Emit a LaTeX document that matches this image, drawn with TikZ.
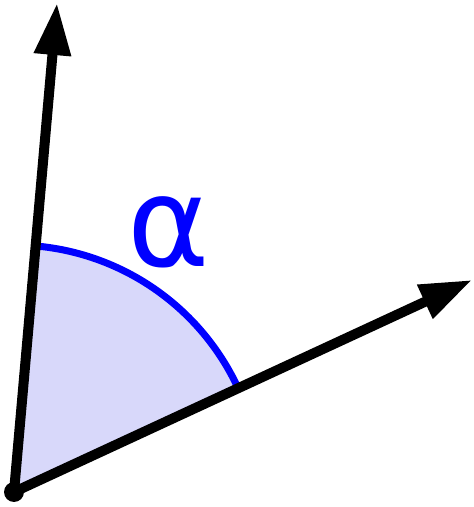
\documentclass[tikz,border=0pt]{standalone}
\usepackage{fontspec}
\newfontfamily\grec{DejaVu Sans}
\usepackage{xcolor}
\usepackage{tikz}
\usetikzlibrary{arrows.meta}
\definecolor{lavande}{RGB}{216,216,250}
\tikzset{
    rayon/.style = {line width=10pt, -{Triangle[length=52pt, width=35pt]}},
    secteur/.style = {fill=lavande},
    arc/.style = {draw=blue, line width=7pt},
    lettre/.style = {text=blue, font=\grec\fontsize{125}{125}\selectfont},
}

\begin{document}
\begin{tikzpicture}[x=1pt, y=1pt]
                \useasboundingbox (0,0) rectangle (474,507);
                \coordinate (O) at (14,15);
                \coordinate (A) at (57,504);
                \coordinate (B) at (472,227);
                \fill[secteur] (O) -- ++(85:247) arc[start angle=85, end angle=25, radius=247] -- cycle;
                \draw[arc] (O) ++(85:247) arc[start angle=85, end angle=25, radius=247];
                \draw[rayon] (O) -- (A);
                \draw[rayon] (O) -- (B);
                \fill (O) circle (10);
                \node[lettre] (alpha) at (169,275) {α};
            \end{tikzpicture}
\end{document}
